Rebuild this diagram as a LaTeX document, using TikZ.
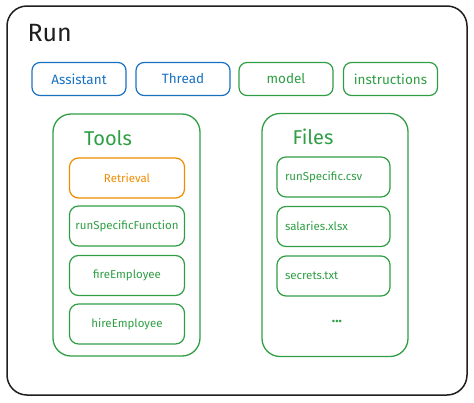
\documentclass[tikz,border=0pt]{standalone}
\usepackage{fontspec}
\setmainfont{Fira Sans}
\definecolor{ink}{HTML}{1E1E1E}
\definecolor{runblue}{HTML}{1971C2}
\definecolor{rungreen}{HTML}{2F9E44}
\definecolor{runorange}{HTML}{F08C00}
\tikzset{
  smallbox/.style={draw, line width=1.2pt, rounded corners=8pt, inner sep=0pt,
    minimum width=94pt, minimum height=33pt, font=\fontsize{13.5}{15}\selectfont},
  itembox/.style={draw=rungreen, text=rungreen, line width=1.2pt, rounded corners=9pt,
    inner sep=0pt, minimum width=115pt, minimum height=40pt, font=\fontsize{11.5}{13}\selectfont},
  group/.style={draw=rungreen, line width=1.3pt, rounded corners=18pt, inner sep=0pt},
  title/.style={text=rungreen, font=\fontsize{20}{22}\selectfont}
}
\begin{document}
\begin{tikzpicture}[x=1pt,y=-1pt]
\useasboundingbox (0,0) rectangle (474,402);
\node[draw=ink, line width=1.5pt, rounded corners=20pt, minimum width=460pt, minimum height=389pt] (run) at (237,200.5) {};
\node[anchor=west, text=ink, font=\fontsize{25}{28}\selectfont\mdseries] (runlabel) at (24,33) {Run};

% top row
\node[smallbox, draw=runblue, text=runblue] (assistant) at (79,79) {Assistant};
\node[smallbox, draw=runblue, text=runblue] (thread) at (183,79) {Thread};
\node[smallbox, draw=rungreen, text=rungreen] (model) at (286,79) {model};
\node[smallbox, draw=rungreen, text=rungreen] (instructions) at (390.5,79) {instructions};

% tools
\node[group, minimum width=147pt, minimum height=242pt] (tools) at (126.5,235) {};
\node[title] (toolslabel) at (108,138) {Tools};
\node[itembox, draw=runorange, text=runorange] (retrieval) at (127,178) {Retrieval};
\node[itembox] (runfunc) at (127,226) {runSpecificFunction};
\node[itembox] (fire) at (127,275.5) {fireEmployee};
\node[itembox] (hire) at (127,324) {hireEmployee};

% files
\node[group, minimum width=146pt, minimum height=243pt] (files) at (335,235) {};
\node[title] (fileslabel) at (313,137) {Files};
\node[itembox, minimum width=113pt, text width=97pt, align=left, inner xsep=8pt] (csv) at (333.5,177) {runSpecific.csv};
\node[itembox, minimum width=113pt, text width=97pt, align=left, inner xsep=8pt] (xlsx) at (333.5,226.5) {salaries.xlsx};
\node[itembox, minimum width=113pt, text width=97pt, align=left, inner xsep=8pt] (txt) at (333.5,276) {secrets.txt};
\node[text=rungreen, font=\fontsize{14}{15}\selectfont\bfseries] (more) at (337,321) {...};
\end{tikzpicture}
\end{document}
